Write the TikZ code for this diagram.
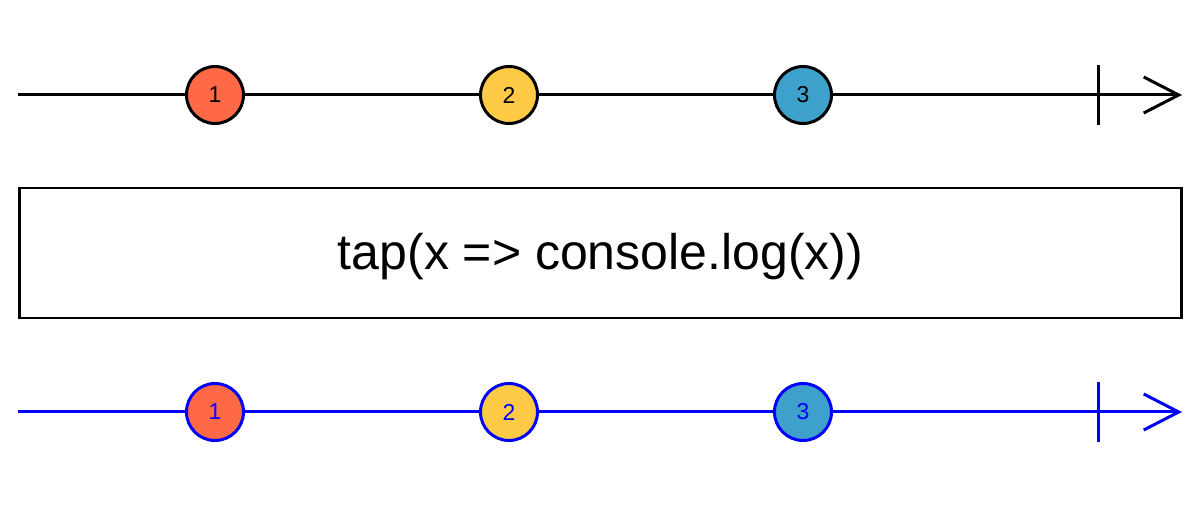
\documentclass[tikz,border=0pt]{standalone}
\usepackage{fontspec}
\setmainfont{Liberation Sans}
\usetikzlibrary{arrows.meta}
\definecolor{marbleRed}{HTML}{FF6946}
\definecolor{marbleYellow}{HTML}{FFCB46}
\definecolor{marbleBlue}{HTML}{3EA1CB}
\begin{document}
\begin{tikzpicture}[x=1pt, y=1pt, line width=3pt, marble/.style={circle, draw, minimum size=57pt, inner sep=0pt, font=\fontsize{23}{26}\selectfont}, op box/.style={rectangle, draw, line width=2.5pt, minimum width=1162pt, minimum height=130pt, text height=44.5pt, text depth=10.5pt, font=\fontsize{50}{60}\selectfont}, timeline/.style={-{Straight Barb[length=35pt, width=36pt]}}]
    \useasboundingbox (0,0) rectangle (1200,506);
    % input stream
    \coordinate (inStart) at (18,411);
    \coordinate (inEnd) at (1182,411);
    \coordinate (inTickTop) at (1098,441);
    \coordinate (inTickBot) at (1098,381);
    \node[marble, fill=marbleRed] (in1) at (215,411) {1};
    \node[marble, fill=marbleYellow] (in2) at (509,411) {2};
    \node[marble, fill=marbleBlue] (in3) at (803,411) {3};
    \draw (inStart) -- (in1);
    \draw (in1) -- (in2);
    \draw (in2) -- (in3);
    \draw[timeline] (in3) -- (inEnd);
    \draw (inTickTop) -- (inTickBot);
    % operator
    \node[op box] (op) at (600.5,253) {tap(x => console.log(x))};
    % output stream
    \begin{scope}[blue]
    \coordinate (outStart) at (18,94);
    \coordinate (outEnd) at (1182,94);
    \coordinate (outTickTop) at (1098,124);
    \coordinate (outTickBot) at (1098,64);
    \node[marble, fill=marbleRed] (out1) at (215,94) {1};
    \node[marble, fill=marbleYellow] (out2) at (509,94) {2};
    \node[marble, fill=marbleBlue] (out3) at (803,94) {3};
    \draw (outStart) -- (out1);
    \draw (out1) -- (out2);
    \draw (out2) -- (out3);
    \draw[timeline] (out3) -- (outEnd);
    \draw (outTickTop) -- (outTickBot);
    \end{scope}
\end{tikzpicture}
\end{document}
